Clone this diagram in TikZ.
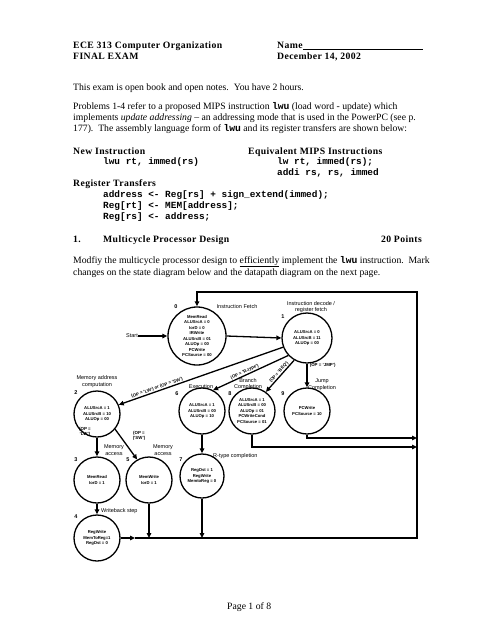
\documentclass[tikz,border=0pt]{standalone}
\usepackage{fontspec}
\setmainfont{Liberation Serif}
\setsansfont{Liberation Sans}
\setmonofont{Liberation Mono}
\newfontfamily\hdfont[LetterSpace=4]{Liberation Serif}
\usetikzlibrary{arrows.meta}
\begin{document}
\begin{tikzpicture}[x=1pt,y=-1pt,
  txt/.style={anchor=base west,inner sep=0,font=\fontsize{9.7}{11}\selectfont},
  hd/.style={anchor=base west,inner sep=0,font=\hdfont\bfseries\fontsize{9.7}{11}\selectfont},
  code/.style={anchor=base west,inner sep=0,font=\ttfamily\bfseries\fontsize{9.4}{11}\selectfont},
  state/.style={circle,draw,line width=1.3pt,inner sep=0,minimum size=46pt,align=center,font=\sffamily\bfseries\fontsize{4.2}{5.5}\selectfont},
  num/.style={font=\sffamily\bfseries\fontsize{5.5}{6}\selectfont,inner sep=0},
  lbl/.style={font=\sffamily\fontsize{5.5}{6.4}\selectfont,inner sep=0,align=center},
  cond/.style={font=\sffamily\bfseries\fontsize{4.4}{5.6}\selectfont,inner sep=0.6pt,align=center},
  wire/.style={line width=1.3pt},
  arr/.style={line width=1.3pt,-{Triangle[length=5pt,width=4.5pt]}},
]
\fill[white] (0,0) rectangle (495,640);
\useasboundingbox (0,0) rectangle (495,640);

% ---- page text ----
\node[hd] (t1) at (73,48) {ECE 313 Computer Organization};
\node[hd] (t2) at (277,48) {Name};
\draw[line width=0.5pt] (t2.base east) ++(0,1.5) -- (423,49.5);
\node[hd] (t3) at (73,59) {FINAL EXAM};
\node[hd] (t4) at (277,59) {December 14, 2002};
\node[txt] (t5) at (73,90) {This exam is open book and open notes.\ \ You have 2 hours.};
\node[txt] (t6) at (73,109) {Problems 1-4 refer to a proposed MIPS instruction {\ttfamily\bfseries lwu} (load word - update) which};
\node[txt] (t7) at (73,120.5) {implements \textit{update addressing} -- an addressing mode that is used in the PowerPC (see p.};
\node[txt] (t8) at (73,131.5) {177).\ \ The assembly language form of {\ttfamily\bfseries lwu} and its register transfers are shown below:};
\node[hd] (t9) at (73,154) {New Instruction};
\node[hd] (t10) at (248,154) {Equivalent MIPS Instructions};
\node[code] (t11) at (103,164.5) {lwu rt, immed(rs)};
\node[code] (t12) at (277,164.5) {lw rt, immed(rs);};
\node[code] (t13) at (277,175.5) {addi rs, rs, immed};
\node[hd] (t14) at (73,186.5) {Register Transfers};
\node[code] (t15) at (103,197.5) {address <- Reg[rs] + sign\_extend(immed);};
\node[code] (t16) at (103,208.5) {Reg[rt] <- MEM[address];};
\node[code] (t17) at (103,219.5) {Reg[rs] <- address;};
\node[hd] (t18) at (73,242) {1.};
\node[hd] (t19) at (103,242) {Multicycle Processor Design};
\node[hd,anchor=base east] (t20) at (422,242) {20 Points};
\node[txt] (t21) at (73,263) {Modfiy the multicycle processor design to \underline{efficiently} implement the {\ttfamily\bfseries lwu} instruction.\ \ Mark};
\node[txt] (t22) at (73,275) {changes on the state diagram below and the datapath diagram on the next page.};
\node[txt] (t23) at (227,609) {Page 1 of 8};

% ---- states ----
\node[state,minimum size=58pt] (s0) at (197,336) {MemRead\\ALUSrcA = 0\\IorD = 0\\IRWrite\\ALUSrcB = 01\\ALUOp = 00\\PCWrite\\PCSource = 00};
\node[state,minimum size=50pt] (s1) at (307,338) {ALUSrcA = 0\\ALUSrcB = 11\\ALUOp = 00};
\node[state] (s2) at (97,414) {ALUSrcA = 1\\ALUSrcB = 10\\ALUOp = 00};
\node[state] (s3) at (97,480) {MemRead\\IorD = 1};
\node[state] (s4) at (97,538) {RegWrite\\MemToReg=1\\RegDst = 0};
\node[state] (s5) at (149,480) {MemWrite\\IorD = 1};
\node[state] (s6) at (202,411) {ALUSrcA = 1\\ALUSrcB = 00\\ALUOp = 10};
\node[state,minimum size=44pt] (s7) at (202,476) {RegDst = 1\\RegWrite\\MemtoReg = 0};
\node[state] (s8) at (252,411) {ALUSrcA = 1\\ALUSrcB = 00\\ALUOp = 01\\PCWriteCond\\PCSource = 01};
\node[state] (s9) at (307,411) {PCWrite\\PCSource = 10};

% ---- state numbers ----
\node[num] (n0) at (176,307) {0};
\node[num] (n1) at (283,317) {1};
\node[num] (n2) at (76,393) {2};
\node[num] (n3) at (76,460) {3};
\node[num] (n4) at (76,517) {4};
\node[num] (n5) at (128,460) {5};
\node[num] (n6) at (177,394) {6};
\node[num] (n7) at (181,460) {7};
\node[num] (n8) at (230,394) {8};
\node[num] (n9) at (283,394) {9};

% ---- annotations ----
\node[lbl] (a0) at (237,307) {Instruction Fetch};
\node[lbl] (a1) at (311,307) {Instruction decode /\\register fetch};
\node[lbl] (a2) at (97,381.5) {Memory address\\computation};
\node[lbl] (a3) at (201,387) {Execution};
\node[lbl] (a4) at (248,384) {Branch\\Completion};
\node[lbl] (a5) at (322,384.5) {Jump\\Completion};
\node[lbl] (a6) at (114,450) {Memory\\access};
\node[lbl] (a7) at (163,450) {Memory\\access};
\node[lbl,anchor=west] (a8) at (213,456) {R-type completion};
\node[lbl,anchor=west] (a9) at (101,511) {Writeback step};
\node[lbl] (start) at (132,336) {Start};
\node[cond,anchor=west] (c9) at (309,365) {(OP = 'JMP')};
\node[cond] (c3) at (85,432) {(OP =\\'LW')};
\node[cond] (c5) at (139,436) {(OP =\\('SW')};

% ---- connectors ----
\coordinate (b1) at (135,538);
\coordinate (br) at (417,538);
\coordinate (tr) at (417,292);
\coordinate (tl) at (197,292);
\coordinate (r9) at (417,438);
\coordinate (r8) at (417,447);

\draw[arr] (start) -- (s0.west);
\draw[arr] (s0.east) -- (s1.west);
\draw[arr] (s1.201) -- node[cond,sloped,above,pos=0.76] {(OP = 'LW') or (OP = 'SW')} (s2.23);
\draw[arr] (s1.223) -- node[cond,sloped,above,pos=0.56] {(OP = 'R-type')} (s6.62);
\draw[arr] (s1.240) -- node[cond,sloped,above,pos=0.45] {(OP = 'BEQ')} (s8.54);
\draw[arr] (s1.south) -- (s9.north);
\draw[arr] (s2) -- (s3);
\draw[arr] (s2.-40) -- (s5.120);
\draw[arr] (s3) -- (s4);
\draw[arr] (s6) -- (s7);
\draw[arr] (s5.south) -- (s5.south |- s4.east);
\draw[arr] (s7.south) -- (s7.south |- s4.east);
\draw[arr] (s4.east) -- (b1);
\draw[arr] (s9.south) |- (r9);
\draw[arr] (s8.south) |- (r8);
\draw[arr,line join=miter] (b1) -- (br) -- (tr) -- (tl) -- (s0.north);
\end{tikzpicture}
\end{document}
